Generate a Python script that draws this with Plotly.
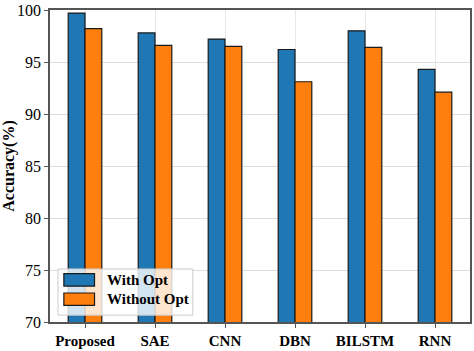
import plotly.graph_objects as go

categories = ["Proposed", "SAE", "CNN", "DBN", "BILSTM", "RNN"]
with_opt = [99.7, 97.8, 97.2, 96.2, 98.0, 94.3]
without_opt = [98.2, 96.6, 96.5, 93.1, 96.4, 92.1]
y_ticks = [70, 75, 80, 85, 90, 95, 100]
series_names = ["With Opt", "Without Opt"]
series_colors = ["#1f77b4", "#ff7f0e"]

font_fam = "Liberation Serif, Times New Roman, serif"

fig = go.Figure()
for name, vals, col in zip(series_names, [with_opt, without_opt], series_colors):
    fig.add_trace(go.Bar(x=categories, y=vals, name=name, showlegend=False,
                         marker=dict(color=col, line=dict(color="#1a1a1a", width=1.2))))

# custom legend (wide patches like the reference)
shapes = [dict(type="rect", xref="paper", yref="paper", x0=0.019, x1=0.340, y0=0.022, y1=0.170,
               fillcolor="rgba(255,255,255,0.8)", line=dict(color="#cccccc", width=1), layer="above")]
annotations = []
patch_y = [(0.115, 0.155), (0.053, 0.093)]
for (y0, y1), name, col in zip(patch_y, series_names, series_colors):
    shapes.append(dict(type="rect", xref="paper", yref="paper", x0=0.033, x1=0.106, y0=y0, y1=y1,
                       fillcolor=col, line=dict(color="#1a1a1a", width=1.2), layer="above"))
    annotations.append(dict(xref="paper", yref="paper", x=0.132, y=(y0 + y1) / 2, xanchor="left",
                            yanchor="middle", showarrow=False, text="<b>" + name + "</b>",
                            font=dict(family=font_fam, size=15, color="black")))

fig.update_layout(
    width=474, height=351,
    margin=dict(l=49, r=2, t=6, b=22),
    plot_bgcolor="white", paper_bgcolor="white",
    barmode="group", bargap=0.52, bargroupgap=0,
    font=dict(family=font_fam, size=14, color="black"),
    shapes=shapes, annotations=annotations,
    xaxis=dict(showgrid=True, gridcolor="#e6e6e6", gridwidth=1,
               showline=True, linecolor="#555555", linewidth=1.5, mirror=True,
               ticks="outside", ticklen=4, tickcolor="#555555",
               tickfont=dict(family=font_fam, size=15, color="black")),
    yaxis=dict(range=[70, 100], tickvals=y_ticks, ticklabeloverflow="allow",
               showgrid=True, gridcolor="#dddddd", gridwidth=1,
               showline=True, linecolor="#555555", linewidth=1.5, mirror=True,
               ticks="outside", ticklen=4, tickcolor="#555555",
               tickfont=dict(family=font_fam, size=16, color="black"),
               title=dict(text="<b>Accuracy(%)</b>", font=dict(family=font_fam, size=16, color="black"),
                          standoff=4)),
)
fig.update_xaxes(tickprefix="<b>", ticksuffix="</b>")
fig.update_yaxes(tickprefix="<b>", ticksuffix="</b>")

fig.write_html("out.html")
